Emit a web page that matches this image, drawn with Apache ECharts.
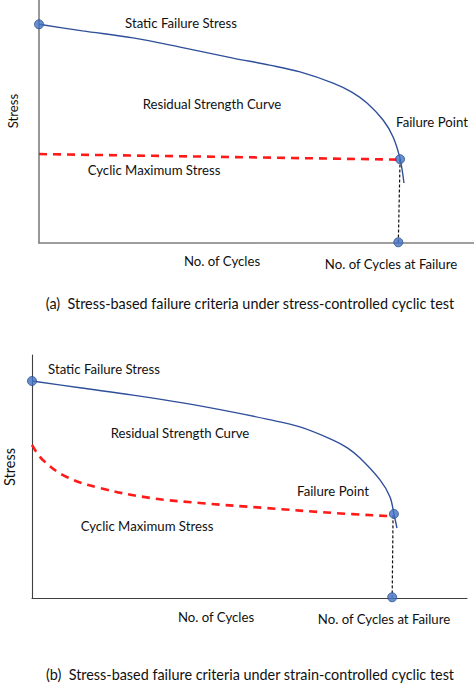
<!DOCTYPE html>
<html>
<head>
<meta charset="utf-8">
<script src="https://cdn.jsdelivr.net/npm/echarts@6/dist/echarts.min.js"></script>
<style>
  html, body { margin: 0; padding: 0; background: #fff; }
  #chart { width: 474px; height: 684px; }
</style>
</head>
<body>
<div id="chart"></div>
<script>
(function () {
    "use strict";
    // axes are normalised: x = cycles (0..100), y = stress (0..100)

    // panel (a): stress-controlled
    var residualA = [[0, 90], [10, 87.3], [21.6, 84.4], [33, 80.4], [44.6, 76.1], [53, 73.2], [60, 70.4],
        [67.6, 65.8], [72, 62], [75.4, 57.6], [79.1, 50.6], [81.4, 43.6], [83, 34.6], [83.9, 24.7]];
    var cyclicA = [[0, 36.6], [83, 34.3]];
    var failDropA = [[83, 34.4], [82.6, 0.3]];
    var pointsA = [[0, 90], [83, 34.5], [82.6, 0.3]];

    // panel (b): strain-controlled
    var residualB = [[0, 89.3], [11, 86.5], [23.2, 83.5], [35, 80.2], [46.2, 76.5], [54, 73.6], [61.6, 70.4],
        [69.2, 65], [72.5, 61.8], [75.4, 57.6], [80, 48.6], [82.3, 41.6], [83.2, 34.6], [83.9, 28.8]];
    var cyclicB = [[0, 63], [2.5, 56.8], [8, 49.8], [15.6, 45.3], [27.1, 41.2], [38.6, 39.1],
        [54, 37], [69.2, 35], [83, 33.6]];
    var failDropB = [[83, 34], [82.8, 0.3]];
    var pointsB = [[0, 89.3], [83.2, 34.6], [82.8, 0.3]];

    var FONT = 'Lato';
    var blue = '#2F4F9A';
    var dotColor = '#4472C4';

    function getAxes(idx, lineColor, lineWidth) {
        var common = {
            gridIndex: idx,
            type: 'value',
            min: 0,
            max: 100,
            axisTick: { show: false },
            axisLabel: { show: false },
            splitLine: { show: false },
            axisLine: { show: true, onZero: false, lineStyle: { color: lineColor, width: lineWidth } }
        };
        return {
            x: echarts.util.extend({}, common),
            y: echarts.util.extend({}, common)
        };
    }

    function getSeries(idx, residual, cyclic, drop, points, smoothCyclic) {
        return [{
            type: 'line',
            xAxisIndex: idx,
            yAxisIndex: idx,
            data: residual,
            smooth: 0.35,
            showSymbol: false,
            clip: false,
            lineStyle: { color: blue, width: 1.4 }
        }, {
            type: 'line',
            xAxisIndex: idx,
            yAxisIndex: idx,
            data: cyclic,
            smooth: smoothCyclic ? 0.4 : false,
            showSymbol: false,
            clip: false,
            lineStyle: { color: '#FF1A1A', width: 2.6, type: [8, 6] }
        }, {
            type: 'line',
            xAxisIndex: idx,
            yAxisIndex: idx,
            data: drop,
            showSymbol: false,
            clip: false,
            lineStyle: { color: '#111', width: 1.2, type: [3, 2] }
        }, {
            type: 'scatter',
            xAxisIndex: idx,
            yAxisIndex: idx,
            data: points,
            symbolSize: 9,
            clip: false,
            z: 5,
            itemStyle: { color: dotColor, borderColor: '#2F528F', borderWidth: 1 }
        }];
    }

    function label(text, x, y, size, rotate) {
        return {
            type: 'text',
            x: x,
            y: y,
            rotation: rotate ? Math.PI / 2 : 0,
            style: {
                text: text,
                fill: '#111',
                font: size + 'px ' + FONT,
                textAlign: 'center',
                textVerticalAlign: 'middle'
            }
        };
    }

    var axA = getAxes(0, '#7F7F7F', 1.6);
    var axB = getAxes(1, '#3F3F3F', 1.1);

    var LBL = 13.2, CAP = 14.4;

    var option = {
        animation: false,
        backgroundColor: '#fff',
        grid: [
            { left: 39, top: 0, width: 435, height: 243 },
            { left: 32, top: 355, width: 435, height: 243 }
        ],
        xAxis: [axA.x, axB.x],
        yAxis: [axA.y, axB.y],
        series: getSeries(0, residualA, cyclicA, failDropA, pointsA, false)
            .concat(getSeries(1, residualB, cyclicB, failDropB, pointsB, true)),
        graphic: [
            label('Static Failure Stress', 181, 23, LBL),
            label('Residual Strength Curve', 212, 104, LBL),
            label('Failure Point', 432, 122, LBL),
            label('Cyclic Maximum Stress', 154, 170, LBL),
            label('No. of Cycles', 222, 261, LBL),
            label('No. of Cycles at Failure', 391, 264, LBL),
            label('Stress', 13, 111, LBL, true),
            label('(a)  Stress-based failure criteria under stress-controlled cyclic test', 250, 303, CAP),

            label('Static Failure Stress', 104, 369, LBL),
            label('Residual Strength Curve', 180, 433, LBL),
            label('Failure Point', 333, 491, LBL),
            label('Cyclic Maximum Stress', 147, 526, LBL),
            label('No. of Cycles', 216, 617, LBL),
            label('No. of Cycles at Failure', 384, 619, LBL),
            label('Stress', 9, 467, 14.5, true),
            label('(b)  Stress-based failure criteria under strain-controlled cyclic test', 250, 674, CAP)
        ]
    };

    var chart = echarts.init(document.getElementById('chart'), null, { renderer: 'svg' });
    chart.setOption(option);
}());
</script>
</body>
</html>
